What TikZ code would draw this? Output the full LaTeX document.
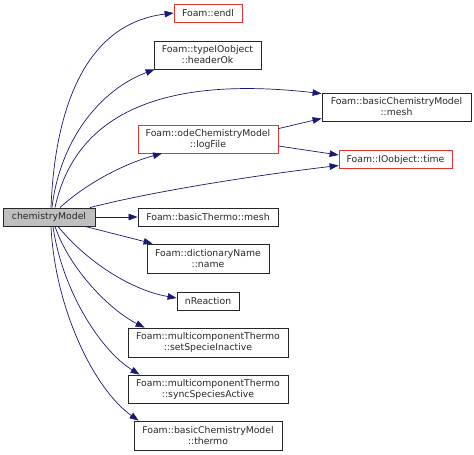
\documentclass[tikz,border=0pt]{standalone}
\usepackage{fontspec}
\setmainfont{DejaVu Sans}
\usetikzlibrary{arrows.meta}
\definecolor{edgeblue}{HTML}{191970}
\definecolor{nodered}{HTML}{E83333}
\definecolor{rootgray}{HTML}{BFBFBF}
\begin{document}
\begin{tikzpicture}[x=1pt,y=-1pt,
  box/.style={draw=black!85, line width=0.8pt, inner sep=0pt, align=center,
    font=\fontsize{9.3}{11}\selectfont, text=black!85},
  redbox/.style={box, draw=nodered},
  rootbox/.style={box, fill=rootgray},
  call/.style={draw=edgeblue, line width=0.7pt, -{Triangle[length=9pt,width=6.5pt]}, edgeblue}
]
\useasboundingbox (0,0) rectangle (474,455);

\node[rootbox, minimum width=92pt, minimum height=18pt] (chem) at (49,217) {chemistryModel};
\node[redbox, minimum width=68pt, minimum height=18pt] (endl) at (208,13) {Foam::endl};
\node[box, minimum width=107pt, minimum height=28pt] (header) at (207.5,55) {Foam::typeIOobject\\::headerOk};
\node[box, minimum width=149pt, minimum height=28pt] (bcmmesh) at (396.5,107) {Foam::basicChemistryModel\\::mesh};
\node[redbox, minimum width=140pt, minimum height=28pt] (logfile) at (208,139) {Foam::odeChemistryModel\\::logFile};
\node[redbox, minimum width=113pt, minimum height=18pt] (time) at (395.5,159.5) {Foam::IOobject::time};
\node[box, minimum width=140pt, minimum height=18pt] (btmesh) at (208,217) {Foam::basicThermo::mesh};
\node[box, minimum width=122pt, minimum height=29pt] (dictname) at (208,258.5) {Foam::dictionaryName\\::name};
\node[box, minimum width=62pt, minimum height=18pt] (nreact) at (208,301) {nReaction};
\node[box, minimum width=160pt, minimum height=29pt] (setspec) at (208,342.5) {Foam::multicomponentThermo\\::setSpecieInactive};
\node[box, minimum width=160pt, minimum height=28pt] (sync) at (208,389) {Foam::multicomponentThermo\\::syncSpeciesActive};
\node[box, minimum width=148pt, minimum height=29pt] (thermo) at (208,435.5) {Foam::basicChemistryModel\\::thermo};

\draw[call] ([xshift=2pt]chem.north) .. controls (54,130) and (75,25) .. (endl.west);
\draw[call] ([xshift=3pt]chem.north) .. controls (60,140) and (100,90) .. ([xshift=1pt]header.south west);
\draw[call] ([xshift=6pt]chem.north) .. controls (75,115) and (160,75) .. ([yshift=-1pt]bcmmesh.north west);
\draw[call] ([xshift=11pt]chem.north) .. controls (90,180) and (130,162) .. ([xshift=-46pt]logfile.south);
\draw[call] ([xshift=41pt]chem.north) .. controls (150,192) and (250,176) .. ([yshift=-6pt]time.west);
\draw[call] (chem.east) -- (btmesh.west);
\draw[call] ([xshift=36pt]chem.south) -- ([xshift=6pt]dictname.north west);
\draw[call] ([xshift=9pt]chem.south) .. controls (85,260) and (130,290) .. ([yshift=3pt]nreact.west);
\draw[call] ([xshift=6pt]chem.south) .. controls (70,270) and (110,310) .. ([xshift=17pt]setspec.north west);
\draw[call] ([xshift=4pt]chem.south) .. controls (62,290) and (100,350) .. ([xshift=12pt]sync.north west);
\draw[call] ([xshift=2pt]chem.south) .. controls (55,310) and (95,390) .. ([xshift=5pt]thermo.north west);
\draw[call] ([yshift=-4pt]logfile.north east) -- ([yshift=3pt]bcmmesh.south west);
\draw[call] ([yshift=-7pt]logfile.east) -- ([yshift=4.5pt]time.west);
\end{tikzpicture}
\end{document}
